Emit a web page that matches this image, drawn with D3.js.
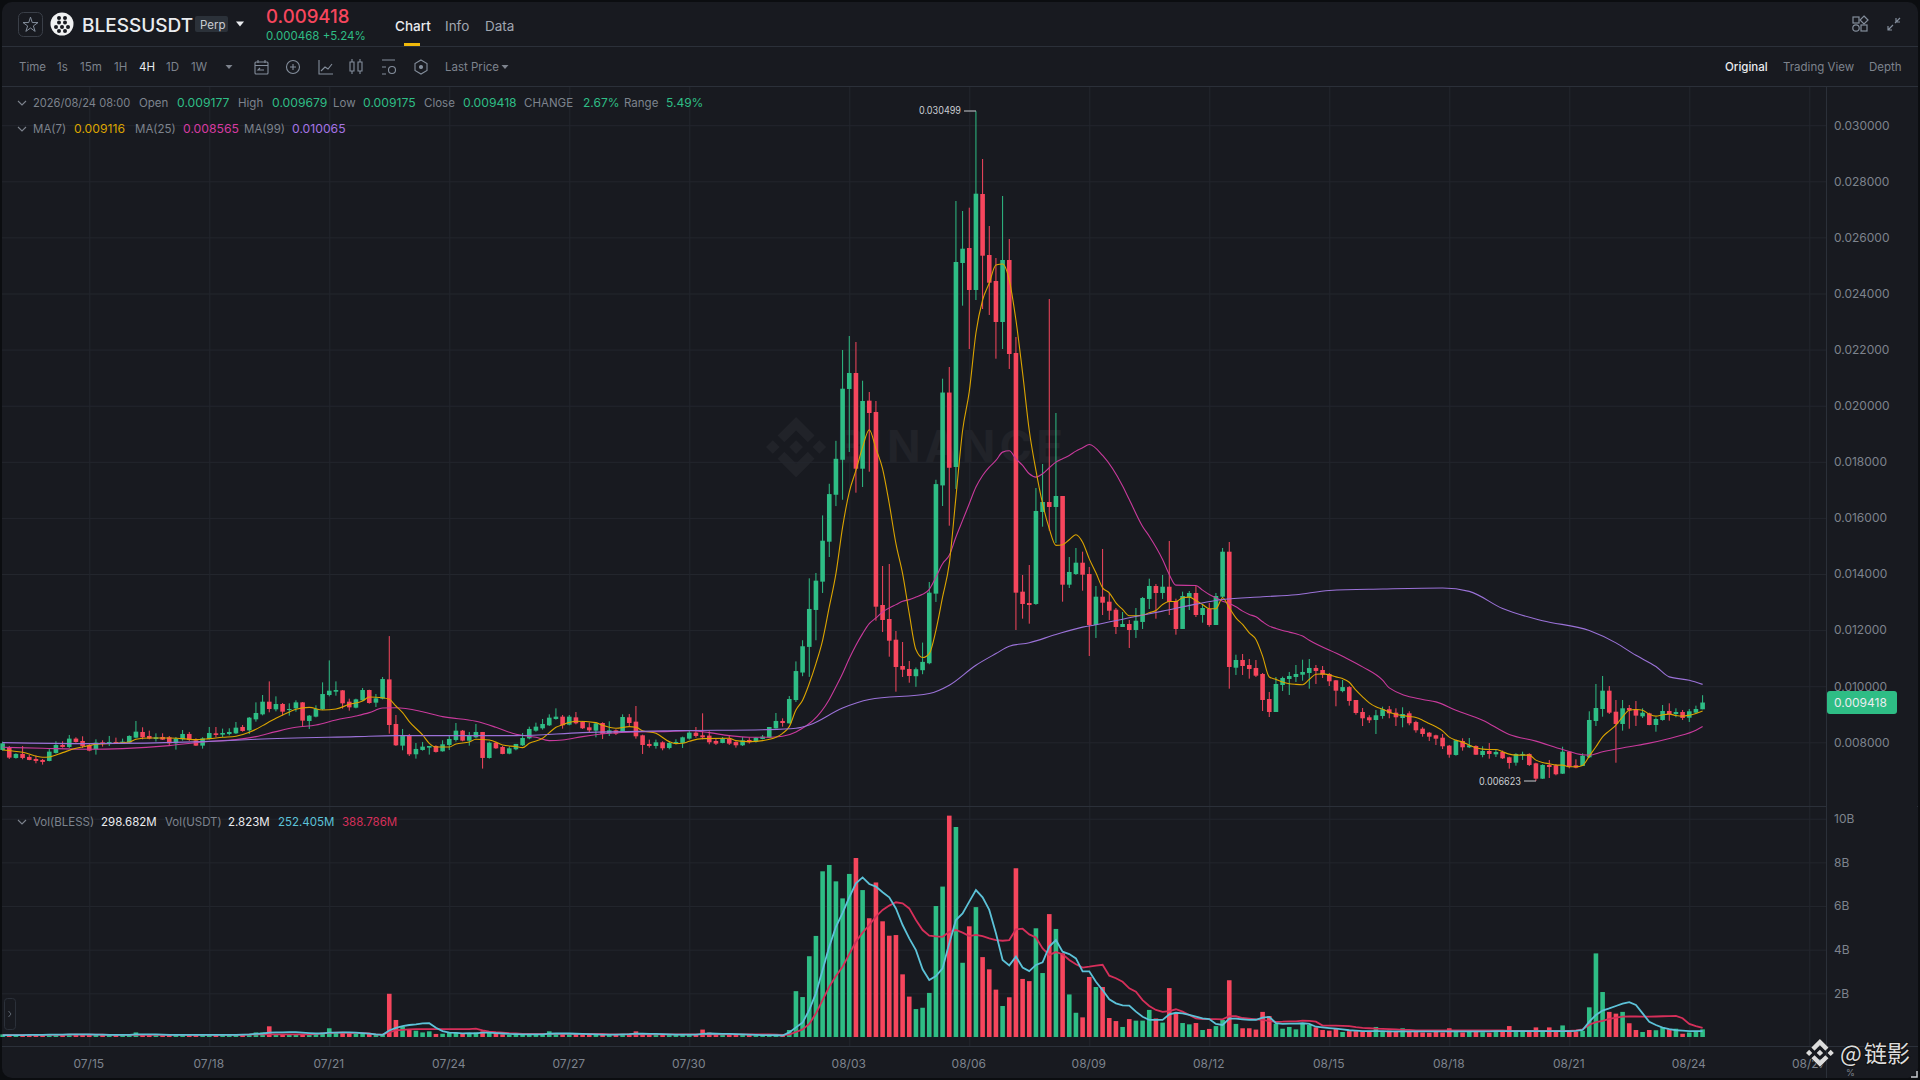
<!DOCTYPE html>
<html lang="en">
<head>
<meta charset="utf-8">
<script src="https://d3js.org/d3.v7.min.js"></script>
<style>
html, body { margin: 0; background: #0b0d10; }
svg { display: block; font-family: Inter, "Noto Sans", sans-serif; }
.axis .domain { display: none; }
.axis text { fill: #7d838d; font-size: 12px; font-family: Inter, sans-serif; }
.grid .domain, .grid text { display: none; }
.grid line { stroke: #23262d; stroke-width: 1; }
</style>
</head>
<body>
<svg width="1920" height="1080"></svg>
<script>
// prices are in 1e-6 USDT, one candle every 4h, index 0 = 07/12 20:00
var opens = [
7727,7822,7442,7585,7478,7406,7371,7335,7620,7905,7834,8131,8047,7893,7751,8000,7988,8012,7964,7988,
8166,8368,8226,8119,8190,8178,7964,8107,8297,8071,7881,8119,8320,8273,8297,8320,8546,8427,8819,8997,
9448,9175,9365,9151,9211,9424,8760,8914,9175,9686,9804,9852,9448,9234,9496,9864,9413,9555,10243,8653,
7881,8261,7573,7727,7810,7869,7679,7905,8083,8415,8059,8178,8368,7442,7988,7834,7596,7751,7893,8142,
8415,8499,8605,8831,8914,8629,8890,8724,8534,8415,8688,8309,8427,8380,8890,8736,8249,7941,7869,8000,
7798,7953,7976,8131,8344,8249,8237,8047,7976,8119,8012,7893,8083,8024,8119,8166,8499,8760,8677,9507,
10487,11401,12718,13727,15152,16825,18072,20596,21166,17754,20180,19776,12895,12396,11658,10720,10614,10356,10570,10819,
13300,17158,20469,17815,25087,25622,24125,27547,25373,24446,22984,25194,21879,13370,12967,12931,16211,16567,16389,16781,
13619,14000,14403,14000,12182,13191,13013,12727,12111,12218,12004,12290,13110,13572,13323,13547,13038,12040,13181,13323,
12538,12752,12182,13191,14795,10660,10934,10756,10650,10435,9544,9080,10043,10257,10328,10410,10471,10650,10578,10435,
10210,9826,9968,9508,9080,8892,8795,8938,9177,9056,8866,9034,8723,8485,8343,8250,8164,7880,7548,8047,
7822,7869,7548,7691,7570,7655,7466,7274,7536,7584,7251,6703,7192,7181,6881,7665,7181,7156,7466,8760,
9187,9840,9091,8653,9223,9177,8926,9034,8617,8796,9116,9009,9080,8877,9056,9177];
var highs = [
8024,7869,7608,7869,7549,7525,7406,7786,8036,8036,8261,8178,8214,7964,8107,8071,8226,8166,8131,8249,
8760,8534,8415,8320,8320,8226,8190,8439,8368,8142,8178,8546,8546,8487,8499,8724,8617,8902,9424,9686,
10172,9638,9401,9389,9496,9436,8973,9318,10137,10920,10172,9864,9555,9555,9935,9875,9721,10327,11786,8973,
8475,8297,7976,8012,7869,7893,8071,8249,8688,8439,8368,8653,8368,8024,8024,7869,7846,7941,8332,8558,
8700,8831,8997,9211,8973,8973,9080,8760,8700,8724,8712,8748,8463,8997,9009,9294,8273,8095,8095,8036,
8024,8107,8202,8439,8546,9033,8392,8154,8190,8261,8036,8190,8178,8190,8261,8546,9045,8855,9650,10884,
11638,13846,14036,16089,17217,18748,21986,22485,22271,20891,20488,20168,14285,14356,11968,11576,10899,10665,11555,13715,
17359,20963,21380,27298,26941,27059,30499,28795,26406,25266,27476,25943,22449,13965,14321,17066,17922,23804,19740,16781,
14606,14927,14795,14250,13572,14892,13323,12788,12646,12360,12788,13181,13833,13644,13965,15177,13120,13370,13394,13572,
12895,12967,13323,14927,15141,11123,11148,10970,10934,10471,9794,10328,10340,10507,10756,10945,10970,10756,10720,10471,
10221,10221,10007,9508,9223,8963,9152,9270,9295,9212,9248,9105,8769,8535,8368,8271,8296,7904,8083,8143,
8154,7893,7858,7976,7737,7705,7487,7608,7665,7608,7272,7216,7370,7227,7843,7690,7394,7608,9105,10079,
10364,10007,9508,9508,9330,9473,9212,9056,8892,9330,9390,9212,9152,9188,9306,9679];
var lows = [
7703,7406,7418,7395,7359,7252,7205,7323,7596,7810,7798,7988,7798,7679,7561,7846,7869,7941,7941,7964,
8142,8107,8107,8024,8083,7869,7739,8059,8047,7869,7774,8095,8178,8190,8249,8297,8380,8297,8736,8961,
9068,9104,8950,8950,9092,8582,8475,8890,9151,9638,9662,9199,9128,9211,9472,9377,9258,9531,8309,7869,
7715,7513,7418,7703,7561,7632,7668,7727,8024,8036,7881,8142,7062,7418,7763,7573,7573,7715,7869,8107,
8380,8451,8582,8807,8487,8605,8641,8475,8356,8178,8119,8226,8261,8356,8558,8131,7585,7810,7774,7715,
7751,7929,7798,8095,8166,8107,7929,7905,7964,7905,7810,7869,7953,7988,8107,8166,8487,8558,8665,9436,
10356,10332,11638,13324,14606,16422,16647,18349,16899,17102,17647,12335,11933,11052,9804,10328,10125,9976,10427,10783,
13003,16424,15722,17031,23565,22021,23768,23447,23234,21676,22021,21309,12004,12407,12229,12900,15687,15544,15105,13013,
13501,13965,13405,11077,11719,12538,12360,11861,12111,11362,11719,12040,12752,12407,13110,12538,11837,12040,12716,12467,
12264,12121,12182,13145,9911,10400,10400,10268,10328,9116,8902,9080,9830,9687,10150,10197,9911,10079,10293,10007,
9284,9783,9306,8984,8581,8688,8296,8841,8856,8581,8535,8607,8343,8200,8047,7904,7760,7451,7523,7702,
7798,7548,7466,7416,7476,7405,7060,7167,7370,7156,6623,6692,6728,6824,6870,7073,7073,7156,7440,8581,
8913,9009,7272,8414,8484,8581,8867,8607,8378,8770,8770,8892,8796,8725,9034,9175];
var closes = [
7964,7454,7585,7442,7371,7335,7300,7668,7905,7834,8131,8012,7869,7703,7988,7941,8012,7964,8024,8226,
8380,8178,8131,8178,8095,7964,8131,8297,8083,7881,8142,8332,8261,8332,8368,8522,8404,8878,9045,9448,
9187,9365,9092,9187,9424,8772,8950,9187,9721,9840,9864,9389,9246,9531,9864,9401,9567,10255,8617,7893,
8237,7573,7763,7846,7869,7656,7929,8119,8415,8059,8237,8368,7442,7988,7786,7585,7786,7941,8154,8475,
8558,8653,8878,8914,8605,8914,8677,8499,8427,8677,8297,8427,8309,8902,8688,8214,7905,7869,8000,7786,
7976,8012,8178,8344,8226,8178,8000,7953,8131,7953,7893,8071,8000,8166,8202,8546,8760,8688,9543,10540,
11424,12754,13763,15187,16849,18107,20606,21166,17754,20168,19740,12835,12360,11622,10685,10589,10364,10605,10867,13335,
17205,20469,17787,25123,25597,24125,27558,25348,24385,22984,25194,21843,13334,12931,12895,16246,16567,16389,16781,13619,
14072,14403,13975,12182,13191,12977,12691,12111,12218,12004,12335,13145,13572,13323,13547,13002,12040,13216,13323,12538,
12788,12182,13216,14795,10685,10934,10720,10614,10375,9508,9080,10079,10293,10364,10435,10507,10650,10543,10410,10175,
9840,9968,9473,9045,8856,8785,8963,9177,9034,8892,9009,8678,8428,8296,8200,8129,7858,7558,8072,7822,
7893,7558,7691,7584,7655,7429,7263,7584,7584,7192,6703,7192,7120,6860,7665,7130,7095,7524,8796,9223,
9840,9056,8653,9212,9141,8951,9056,8617,8831,9116,9009,9080,8867,9105,9188,9418];

// volume in billions
var volumes = [
.12,.1,.1,.08,.1,.11,.08,.12,.1,.12,.14,.14,.1,.12,.1,.1,.1,.1,.12,.1,
.21,.1,.12,.12,.08,.1,.1,.12,.1,.08,.1,.1,.08,.1,.1,.1,.12,.12,.21,.21,
.49,.14,.12,.14,.13,.14,.16,.15,.2,.4,.2,.18,.2,.16,.14,.16,.14,.12,1.98,.78,
.47,.32,.29,.21,.26,.14,.15,.2,.2,.18,.18,.21,.26,.21,.2,.12,.1,.13,.1,.14,
.13,.15,.26,.16,.13,.14,.14,.12,.1,.14,.12,.1,.13,.14,.15,.26,.16,.12,.14,.12,
.12,.1,.12,.12,.12,.34,.2,.16,.12,.13,.12,.14,.1,.08,.08,.12,.14,.14,.32,2.1,
1.83,3.7,4.63,7.59,7.88,7.13,6.35,7.47,8.2,6.73,5.44,7.08,5.3,4.64,4.67,2.87,1.85,1.28,1.34,2.02,
6,6.89,10.14,9.62,3.4,5.07,5.95,3.66,3.1,2.17,1.42,1.82,7.73,2.66,2.56,4.98,2.93,5.63,4.95,3.83,
1.95,1.11,.9,2.75,2.29,2.29,.87,.73,.46,.82,.75,.75,1.24,.85,.66,2.24,1.08,.64,.58,.64,
.32,.37,.5,.78,2.6,.6,.4,.4,.34,1.15,.96,.61,.38,.46,.35,.6,.55,.44,.32,.29,
.37,.23,.27,.27,.26,.24,.46,.23,.29,.23,.4,.24,.23,.21,.2,.29,.21,.4,.23,.21,
.25,.23,.22,.2,.24,.26,.5,.23,.23,.24,.44,.24,.44,.26,.53,.3,.25,.28,1.36,3.83,
2.06,1.15,1.07,1.15,.63,.32,.23,.32,.31,.44,.35,.38,.15,.21,.23,.35];
var volMaShort = [
.08,.09,.09,.09,.1,.1,.1,.11,.11,.11,.12,.12,.12,.12,.11,.11,.1,.1,.1,.1,
.12,.12,.12,.12,.11,.1,.1,.1,.1,.1,.1,.1,.1,.1,.1,.1,.11,.12,.14,.16,
.2,.21,.21,.22,.22,.2,.18,.16,.17,.2,.2,.21,.21,.2,.18,.15,.12,.1,.3,.42,
.5,.55,.58,.62,.63,.42,.27,.2,.19,.17,.18,.17,.2,.2,.18,.16,.14,.13,.12,.12,
.12,.12,.15,.16,.16,.16,.15,.14,.13,.12,.11,.11,.11,.12,.13,.15,.15,.14,.14,.13,
.12,.11,.11,.11,.11,.14,.16,.15,.14,.14,.13,.12,.11,.1,.09,.09,.08,.07,
.21,.44,.66,1.24,2,3.07,4.14,5.05,5.69,6.4,7.04,7.31,7.01,6.89,6.63,6.4,5.89,5.13,4.52,3.98,
3.1,2.61,2.79,3.15,4.29,5.36,5.66,6.2,6.73,6.4,5.82,4.75,3.53,3.28,3.68,3.18,3.02,3.3,3.42,4.14,
4.44,3.91,3.8,3.6,3.01,3.01,2.53,2.15,1.73,1.54,1.45,1.44,1.16,.93,.78,.78,.78,1.04,1.11,1.08,
1.01,.93,.85,.82,.6,.55,.84,.84,.81,.78,.79,.89,.92,.63,
.6,.61,.61,.63,.6,.47,.44,.41,.38,.35,.31,.29,.27,.27,.27,.27,.26,.26,.26,.26,
.26,.26,.26,.26,.26,.26,.26,.26,.26,.26,.26,.26,.27,.27,.27,.27,.27,.27,.27,.27,
.27,.27,.27,.27,.28,.32,.7,1.01,1.21,1.31,1.42,1.53,1.6,1.47,1.08,.7,.55,.43,.36,.31,
.29,.27,.27,.27];
var volMaLong = [
.1,.1,.1,.1,.1,.1,.1,.1,.1,.1,.11,.11,.11,.11,.11,.11,.1,.1,.1,.1,
.1,.1,.1,.1,.1,.1,.1,.1,.1,.1,.1,.1,.1,.1,.1,.1,.1,.11,.12,.12,
.12,.12,.12,.12,.12,.12,.12,.13,.17,.18,.2,.2,.19,.19,.18,.17,.11,.11,.22,.3,
.33,.35,.36,.36,.36,.36,.36,.36,.36,.36,.36,.38,.3,.25,.22,.2,.18,.17,.14,.14,
.14,.14,.14,.14,.14,.14,.14,.14,.14,.14,.14,.12,.12,.12,.12,.12,.12,.12,.12,.12,
.12,.12,.12,.12,.12,.12,.12,.12,.12,.12,.12,.12,.12,.12,.12,.12,.11,.1,
.11,.23,.35,.6,1.08,1.69,2.31,2.79,3.22,3.8,4.37,4.78,5.13,5.51,5.82,6.02,6.17,6.12,5.89,5.36,
4.9,4.64,4.61,4.59,4.82,4.9,4.78,4.62,4.68,4.62,4.52,4.44,4.41,4.44,4.93,4.96,4.7,4.56,4.06,3.76,
3.89,3.79,3.53,3.33,3.18,3.22,3.27,3.31,2.81,2.69,2.53,2.23,2.08,1.69,1.42,1.24,1.15,1.19,1.27,1.16,
1.01,.85,.82,.82,.82,.81,.96,.95,.87,.84,.81,.78,.73,.69,
.7,.72,.72,.75,.74,.7,.52,.52,.52,.51,.5,.45,.42,.4,.38,.37,.36,.35,.33,.33,
.3,.3,.3,.3,.3,.3,.3,.3,.3,.3,.3,.3,.3,.3,.28,.28,.28,.28,.28,.28,
.28,.28,.28,.28,.3,.35,.56,.68,.74,.83,.89,.93,.94,.94,.93,.93,.94,.95,.96,.97,
.86,.6,.5,.42];

// moving averages, [candle index, price]
var ma7 = [[0,7727],[3,7644],[6,7466],[7,7478],[9,7632],[11,7786],[13,7881],[14,7929],[17,7964],[19,8012],[20,8107],[22,8154],[25,8154],[27,8131],[29,8095],[31,8131],[33,8178],[35,8214],[37,8356],[38,8463],[39,8594],[41,8855],[43,9080],[44,9175],[46,9246],[48,9151],[50,9187],[52,9353],[54,9472],[55,9614],[57,9590],[58,9531],[59,9294],
[60,9056],[61,8736],[63,8261],[64,7964],[65,7834],[67,7834],[68,7941],[70,8012],[71,8107],[73,8083],[75,7905],[77,7846],[78,7810],[79,7964],[81,8142],[82,8344],[83,8534],[84,8629],[86,8748],[89,8700],[90,8605],[92,8499],[94,8558],[95,8534],[96,8415],[98,8320],[100,8024],[101,7953],[102,7964],[103,8036],[105,8131],[109,8142],[110,8059],[112,8024],[114,8059],[116,8178],[117,8320],[118,8558],[119,9151],
[120,9501],[121,10095],[122,10807],[123,11638],[124,12825],[125,14012],[126,15674],[127,16920],[128,17692],[129,18523],[130,19140],[131,18463],[132,17751],[133,16505],[134,15080],[135,14012],[136,12588],[137,11306],[138,11021],[139,11163],[140,11994],[141,13181],[142,14368],[143,16742],[144,19116],[145,20500],[146,22592],[147,23768],[148,24374],[149,25016],[150,25052],[151,24481],[152,23055],[153,21166],[154,19116],[155,17692],[156,16505],[157,15615],[158,15021],[159,15045],[160,15223],[161,15400],
[162,15133],[163,14540],[164,14041],[165,13507],[166,13329],[167,12973],[168,12736],[169,12510],[170,12510],[171,12534],[172,12617],[173,12700],[174,12914],[175,13021],[176,13021],[177,13151],[178,13175],[179,13056],[180,12914],[181,12759],[182,12759],[183,13151],[184,12795],[185,12439],[186,12202],[187,11905],[188,11668],[189,11074],[190,10326],[191,10243],[192,10148],[193,10089],[194,10065],[195,10053],[196,10243],[197,10427],[198,10439],[199,10404],
[200,10332],[201,10273],[202,10142],[203,9858],[204,9620],[205,9406],[206,9264],[207,9181],[208,9074],[209,9003],[210,8955],[211,8920],[212,8884],[213,8789],[214,8671],[215,8552],[216,8409],[217,8184],[218,8077],[219,8006],[220,7899],[221,7804],[222,7757],[223,7745],[224,7745],[225,7662],[226,7578],[227,7543],[228,7543],[229,7543],[230,7365],[231,7282],[232,7234],[233,7187],[234,7187],[235,7128],[236,7128],[237,7175],[238,7507],[239,7840],[240,8196],[241,8409],[242,8611],[243,8908],[244,9145],[245,9169],[246,9145],[247,9003],[248,8932],[249,8979],[250,9003],[251,8955],[252,8932],[253,8967],[254,9027],[255,9116]];
var ma25 = [[0,7822],[6,7786],[13,7751],[18,7774],[25,7881],[30,8012],[35,8095],[38,8202],[41,8380],[44,8534],[47,8617],[50,8795],[53,8938],[55,9057],[57,9222],[59,9234],
[63,9092],[66,8914],[71,8748],[74,8534],[77,8285],[80,8178],[82,8059],[84,8083],[87,8202],[91,8320],[95,8368],[99,8380],[103,8415],[106,8344],[109,8237],[112,8178],[115,8178],[117,8214],[119,8368],
[124,9525],[125,9976],[126,10451],[127,10985],[128,11460],[129,11875],[130,12231],[131,12433],[132,12647],[133,12790],[134,12908],[135,13027],[136,13086],[137,13181],[138,13276],[139,13454],[140,13893],[141,14368],[142,14665],[143,15318],[144,15911],[145,16505],[146,17098],[147,17514],[148,17811],[149,18048],[150,18345],[151,18392],[152,18107],[153,17870],[154,17573],[155,17454],[156,17573],[157,17787],[158,17989],[159,18107],[160,18226],[161,18380],[162,18500],[163,18617],[165,18225],[168,17138],[169,16653],[171,15694],
[172,15347],[174,14516],[175,13982],[176,13602],[179,13590],[180,13424],[181,13270],[182,13151],[183,13032],[184,12949],[185,12831],[186,12677],[187,12558],[188,12475],[189,12297],[190,12142],[191,12059],[192,11988],[193,11929],[194,11870],[195,11786],[196,11638],[201,11068],[204,10688],[207,10214],[208,9941],[213,9525],[215,9442],[218,9145],[222,8789],[226,8279],[230,8041],[234,7745],[237,7555],[238,7543],[240,7662],[244,7840],[247,7970],[251,8196],[254,8433],[255,8565]];
var ma99 = [[0,7988],[13,7953],[30,8024],[38,8107],[53,8202],[59,8237],[77,8237],[87,8344],[101,8415],[115,8451],[119,8499],[121,8615],[126,9222],[130,9525],[139,9739],[142,10036],[146,10748],[149,11163],[151,11424],[154,11549],[158,11845],[162,12107],[164,12190],[169,12439],[174,12676],[179,12926],[183,13092],[189,13187],[194,13258],[199,13412],[207,13465],[216,13502],[220,13380],[225,12767],[231,12332],[238,11984],[242,11544],[245,11100],[248,10700],[250,10332],[253,10214],[255,10065]];

var priceTicks = [30000,28000,26000,24000,22000,20000,18000,16000,14000,12000,10000,8000];
var volTicks = [10,8,6,4,2];
var dateIdx = [13,31,49,67,85,103,127,145,163,181,199,217,235,253,271];
var dateLabels = ["07/15","07/18","07/21","07/24","07/27","07/30","08/03","08/06","08/09","08/12","08/15","08/18","08/21","08/24","08/27"];

var green = "#2ebd85", red = "#f6465d", grey = "#7d838d";

var svg = d3.select("svg");
var x = d3.scaleLinear().domain([0, 255]).range([2.6, 1702.6]);
var y = d3.scaleLinear().domain([30000, 8000]).range([125.2, 742.3]);
var yVol = d3.scaleLinear().domain([0, 10]).range([1037, 818.7]);

// window
svg.append("rect").attr("x", 2).attr("y", 2).attr("width", 1916).attr("height", 1076).attr("rx", 10).attr("fill", "#181a20");

// watermark
var binance = "M38.73 53.2l24.59-24.58 24.6 24.6 14.3-14.31L63.32 0 24.42 38.9zM0 63.31l14.3-14.31 14.31 14.31-14.31 14.3zM38.73 73.41l24.59 24.59 24.6-24.6 14.31 14.29-38.9 38.91-38.91-38.88-.02-.02zM98.01 63.31l14.3-14.3 14.31 14.3-14.31 14.31zM77.83 63.3L63.32 48.78 52.59 59.51l-1.24 1.23-2.54 2.54 14.51 14.5 14.51-14.52z";
svg.append("path").attr("d", binance).attr("transform", "translate(766,417) scale(.475)").attr("fill", "#212329");
svg.append("text").attr("x", 837).attr("y", 462).attr("font-size", 44).attr("font-weight", 700).attr("textLength", 226).attr("fill", "#212329").text("BINANCE");

// grid
svg.append("g").attr("class", "grid").call(d3.axisLeft(y).tickValues(priceTicks).tickSize(-1824).tickFormat("")).attr("transform", "translate(2,0)");
svg.append("g").attr("class", "grid").call(d3.axisLeft(yVol).tickValues(volTicks).tickSize(-1824).tickFormat("")).attr("transform", "translate(2,0)");
svg.append("g").attr("class", "grid").attr("transform", "translate(0,1046)").call(d3.axisTop(x).tickValues(dateIdx).tickSize(960).tickFormat(""));

// separators
[46.5, 86.5, 806.5, 1046.5].forEach(function(p) {
  svg.append("line").attr("x1", 2).attr("x2", 1918).attr("y1", p).attr("y2", p).attr("stroke", "#2b3039");
});
svg.append("line").attr("x1", 1826.5).attr("x2", 1826.5).attr("y1", 87).attr("y2", 1078).attr("stroke", "#2b3039");
svg.append("rect").attr("x", 1827).attr("y", 87).attr("width", 90).attr("height", 959).attr("fill", "#181a20");

var candles = d3.range(opens.length);
function colorOf(i) { return closes[i] >= opens[i] ? green : red; }

// wicks and bodies
svg.append("g").selectAll("line").data(candles).enter().append("line")
    .attr("x1", function(i) { return x(i); })
    .attr("x2", function(i) { return x(i); })
    .attr("y1", function(i) { return y(highs[i]); })
    .attr("y2", function(i) { return y(lows[i]); })
    .attr("stroke", colorOf);
svg.append("g").selectAll("rect").data(candles).enter().append("rect")
    .attr("x", function(i) { return x(i) - 2.3; })
    .attr("width", 4.6)
    .attr("y", function(i) { return y(Math.max(opens[i], closes[i])); })
    .attr("height", function(i) { return Math.max(1, Math.abs(y(opens[i]) - y(closes[i]))); })
    .attr("fill", colorOf);

var line = d3.line().x(function(d) { return x(d[0]); }).y(function(d) { return y(d[1]); }).curve(d3.curveMonotoneX);
[[ma25, "#c93a9c"], [ma7, "#dba400"], [ma99, "#9b72d8"]].forEach(function(m) {
  svg.append("path").attr("d", line(m[0])).attr("fill", "none").attr("stroke", m[1]).attr("stroke-width", 1.1);
});

// volume pane
svg.append("g").selectAll("rect").data(candles).enter().append("rect")
    .attr("x", function(i) { return x(i) - 2.3; })
    .attr("width", 4.6)
    .attr("y", function(i) { return yVol(volumes[i]); })
    .attr("height", function(i) { return yVol(0) - yVol(volumes[i]); })
    .attr("fill", colorOf);
var volLine = d3.line().x(function(d, i) { return x(i); }).y(function(d) { return yVol(d); });
svg.append("path").attr("d", volLine(volMaLong)).attr("fill", "none").attr("stroke", "#d62f5a").attr("stroke-width", 1.8);
svg.append("path").attr("d", volLine(volMaShort)).attr("fill", "none").attr("stroke", "#5cc2d8").attr("stroke-width", 1.8);

// axes
svg.append("g").attr("class", "axis").attr("transform", "translate(1826,0)")
    .call(d3.axisRight(y).tickValues(priceTicks).tickSize(0).tickPadding(8).tickFormat(function(d) { return (d / 1e6).toFixed(6); }));
svg.append("g").attr("class", "axis").attr("transform", "translate(1826,0)")
    .call(d3.axisRight(yVol).tickValues(volTicks).tickSize(0).tickPadding(8).tickFormat(function(d) { return d + "B"; }));
svg.append("g").attr("class", "axis").attr("transform", "translate(-1,1055)")
    .call(d3.axisBottom(x).tickValues(dateIdx).tickSize(0).tickPadding(4).tickFormat(function(d, i) { return dateLabels[i]; }));

function label(px, py, str, color, size, weight, anchor) {
  return svg.append("text").attr("x", px).attr("y", py).attr("dy", "0.35em")
      .attr("font-size", size || 11.5).attr("font-weight", weight || 400)
      .attr("text-anchor", anchor || "start").attr("fill", color || grey).text(str);
}
function chevron(px, py) {
  svg.append("path").attr("d", "M" + (px - 4) + " " + (py - 2) + "l4 4l4 -4").attr("fill", "none").attr("stroke", grey).attr("stroke-width", 1.1);
}
function caret(px, py, s, color) {
  svg.append("path").attr("d", "M" + (px - s) + " " + (py - s * .6) + "h" + 2 * s + "l" + (-s) + " " + s * 1.2 + "z").attr("fill", color || grey);
}

// high and low markers
label(919, 110, "0.030499", "#c9ccd1", 10).attr("textLength", 42).attr("lengthAdjust", "spacingAndGlyphs");
svg.append("line").attr("x1", 964).attr("x2", 976).attr("y1", 111).attr("y2", 111).attr("stroke", "#c9ccd1");
label(1479, 781.5, "0.006623", "#c9ccd1", 10).attr("textLength", 42).attr("lengthAdjust", "spacingAndGlyphs");
svg.append("line").attr("x1", 1524).attr("x2", 1536).attr("y1", 781).attr("y2", 781).attr("stroke", "#c9ccd1");

// last price tag
svg.append("rect").attr("x", 1827).attr("y", 691).attr("width", 70).attr("height", 23).attr("rx", 3).attr("fill", green);
label(1834, 702.5, "0.009418", "#eaecef", 12);

// header
svg.append("rect").attr("x", 18.5).attr("y", 12.5).attr("width", 24).attr("height", 24).attr("rx", 5).attr("fill", "none").attr("stroke", "#3a3f48");
svg.append("path").attr("d", d3.symbol().type(d3.symbolStar).size(70)()).attr("transform", "translate(30.5,25)").attr("fill", "none").attr("stroke", "#848e9c");
svg.append("circle").attr("cx", 62).attr("cy", 24).attr("r", 11.5).attr("fill", "#f0f1f2");
[[-3, -6], [3, -6], [-3, -1.5], [3, -1.5], [-6, 3], [0, 3], [6, 3], [-3, 7], [3, 7]].forEach(function(p) {
  svg.append("circle").attr("cx", 62 + p[0]).attr("cy", 24 + p[1]).attr("r", 2).attr("fill", "#181a20");
});
label(82, 25, "BLESSUSDT", "#eaecef", 19, 500);
svg.append("rect").attr("x", 195).attr("y", 16).attr("width", 33).attr("height", 16).attr("rx", 2).attr("fill", "#2b3139");
label(200, 24.5, "Perp", "#c9ccd1", 11.5);
caret(240, 24, 4, "#eaecef");
label(266, 16, "0.009418", red, 18.6, 500);
label(266, 36, "0.000468 +5.24%", green, 11.5);
label(395, 26.5, "Chart", "#eaecef", 13.5, 500);
label(445, 26.5, "Info", "#a0a6b0", 13.5);
label(485, 26.5, "Data", "#a0a6b0", 13.5);
svg.append("rect").attr("x", 404).attr("y", 43).attr("width", 16).attr("height", 3).attr("fill", "#f0b90b");

// toolbar
[["Time", 19], ["1s", 57], ["15m", 80], ["1H", 114], ["4H", 139], ["1D", 166], ["1W", 191]].forEach(function(t) {
  label(t[1], 67, t[0], t[0] == "4H" ? "#eaecef" : grey, 11.5);
});
caret(229, 67, 3.5);
var toolIcon = svg.append("g").attr("fill", "none").attr("stroke", "#848e9c").attr("stroke-width", 1.1);
toolIcon.append("rect").attr("x", 255).attr("y", 62).attr("width", 13).attr("height", 12).attr("rx", 1);
toolIcon.append("path").attr("d", "M255 65.5h13M258 60v3M265 60v3M264 70h-6l2 -2");
toolIcon.append("circle").attr("cx", 293).attr("cy", 67).attr("r", 6.5);
toolIcon.append("path").attr("d", "M293 64v6M290 67h6");
toolIcon.append("path").attr("d", "M319 60v14h14M321 71l4 -4l3 2l4 -5");
toolIcon.append("path").attr("d", "M354 62h4v9h-4zM362 62h4v9h-4zM356 59v3M356 71v3M364 59v3M364 71v3").attr("transform", "translate(-4,0)");
toolIcon.append("path").attr("d", "M382 60h13M382 67h4M382 74h4");
toolIcon.append("circle").attr("cx", 392).attr("cy", 70).attr("r", 3.5);
toolIcon.append("path").attr("d", "M421 60l6 3.5v7l-6 3.5l-6 -3.5v-7z");
toolIcon.append("circle").attr("cx", 421).attr("cy", 67).attr("r", 1.5).attr("fill", "#848e9c");
label(445, 67, "Last Price", grey, 11.5);
caret(505, 67, 3.5);
label(1725, 67, "Original", "#eaecef", 11.5, 500);
label(1783, 67, "Trading View", grey, 11.5);
label(1869, 67, "Depth", grey, 11.5);
var cornerIcon = svg.append("g").attr("fill", "none").attr("stroke", "#848e9c").attr("stroke-width", 1.2);
cornerIcon.append("rect").attr("x", 1853).attr("y", 17).attr("width", 6).attr("height", 6);
cornerIcon.append("path").attr("d", "M1864 16l4 4l-4 4l-4 -4z");
cornerIcon.append("circle").attr("cx", 1856).attr("cy", 28).attr("r", 3.2);
cornerIcon.append("rect").attr("x", 1861).attr("y", 25).attr("width", 6).attr("height", 6);
cornerIcon.append("path").attr("d", "M1888 30l5 -5M1888 26v4h4M1900 18l-5 5M1900 22h-4v-4");

// legends
chevron(22, 103);
[["2026/08/24 08:00", 33, grey, 11.1], ["Open", 139, grey], ["0.009177", 177, green, 12.2], ["High", 238, grey], ["0.009679", 272, green, 12.2], ["Low", 333, grey], ["0.009175", 363, green, 12.2], ["Close", 424, grey], ["0.009418", 463, green, 12.2], ["CHANGE", 524, grey], ["2.67%", 583, green, 12], ["Range", 624, grey], ["5.49%", 666, green, 12]].forEach(function(t) {
  label(t[1], 103, t[0], t[2], t[3] || 11.5);
});
chevron(22, 129);
[["MA(7)", 33, grey], ["0.009116", 74, "#dba400", 12.2], ["MA(25)", 135, grey], ["0.008565", 183, "#d63aa0", 12.2], ["MA(99)", 244, grey], ["0.010065", 292, "#a574e6", 12.2]].forEach(function(t) {
  label(t[1], 129, t[0], t[2], t[3] || 11.5);
});
chevron(22, 822);
[["Vol(BLESS)", 33, grey], ["298.682M", 101, "#eaecef"], ["Vol(USDT)", 165, grey], ["2.823M", 228, "#eaecef"], ["252.405M", 278, "#5cc2d8"], ["388.786M", 342, "#d62f5a"]].forEach(function(t) {
  label(t[1], 822, t[0], t[2], 11.5);
});

// collapse handle
svg.append("rect").attr("x", 4.5).attr("y", 998.5).attr("width", 11).attr("height", 31).attr("rx", 3).attr("fill", "#181a20").attr("stroke", "#2b3039");
svg.append("path").attr("d", "M8.5 1011l2.5 3l-2.5 3").attr("fill", "none").attr("stroke", "#5e6670");

// bottom right corner
label(1846, 1073, "%", grey, 9);
svg.append("path").attr("d", "M1911 1077v-6h6").attr("fill", "none").attr("stroke", "#c9ccd1").attr("stroke-width", 1.5).attr("transform", "rotate(180 1914 1074)");
svg.append("path").attr("d", binance).attr("transform", "translate(1806,1039) scale(.22)").attr("fill", "#dcdcdc").attr("stroke", "#111").attr("stroke-width", 4).attr("paint-order", "stroke");
svg.append("text").attr("x", 1840).attr("y", 1062).attr("font-size", 23).attr("fill", "#dcdcdc").attr("font-family", "Noto Sans CJK SC").attr("stroke", "#111").attr("stroke-width", 2).attr("paint-order", "stroke").text("@");
svg.append("text").attr("x", 1864).attr("y", 1062).attr("font-size", 23).attr("fill", "#dcdcdc").attr("font-family", "Noto Sans CJK SC").attr("stroke", "#111").attr("stroke-width", 2).attr("paint-order", "stroke").text("链影");
</script>
</body>
</html>
